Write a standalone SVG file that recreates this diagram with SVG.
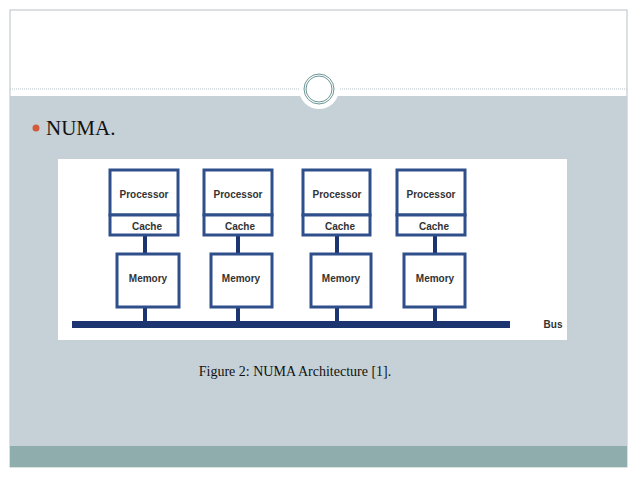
<svg xmlns="http://www.w3.org/2000/svg" width="638" height="478" viewBox="0 0 638 478">
<style>
.b{fill:#fff;stroke:#2f4f8a;stroke-width:3}
.t{font-family:"Liberation Sans",Arial,sans-serif;font-size:10px;font-weight:bold;fill:#333;text-anchor:middle}
.c{stroke:#1c3570;stroke-width:4}
</style>
<rect width="638" height="478" fill="#fff"/>
<rect x="10" y="10" width="617" height="457" fill="#fff" stroke="#b7c4c8"/>
<rect x="10" y="96" width="617" height="350" fill="#c5d1d7"/>
<rect x="10" y="446" width="617" height="21" fill="#8fadac"/>
<line x1="10" y1="89" x2="627" y2="89" stroke="#b9c5c8" stroke-dasharray="1 1"/>
<circle cx="319" cy="89" r="20" fill="#fff"/>
<circle cx="319" cy="89" r="15" fill="none" stroke="#6e9697" stroke-width="1"/>
<circle cx="319" cy="89" r="13" fill="none" stroke="#6e9697" stroke-width="1"/>
<circle cx="36" cy="128" r="3.5" fill="#d45a3c"/>
<text x="46" y="135" font-family="Liberation Serif,serif" font-size="21" fill="#111">NUMA.</text>
<rect x="58" y="159" width="509" height="181" fill="#fff"/>
<g id="connectors">
<line class="c" x1="145" y1="235" x2="145" y2="325"/>
<line class="c" x1="238" y1="235" x2="238" y2="325"/>
<line class="c" x1="337" y1="235" x2="337" y2="325"/>
<line class="c" x1="435" y1="235" x2="435" y2="325"/>
<rect x="72" y="321" width="438" height="7" fill="#1c3570"/>
</g>
<g id="n1"><rect class="b" x="110" y="170" width="68" height="45"/><rect class="b" x="110" y="215" width="68" height="20"/><text class="t" x="144" y="198">Processor</text><text class="t" x="147" y="230">Cache</text><rect class="b" x="117" y="254" width="62" height="53"/><text class="t" x="148" y="282">Memory</text></g>
<g id="n2"><rect class="b" x="204" y="170" width="68" height="45"/><rect class="b" x="204" y="215" width="68" height="20"/><text class="t" x="238" y="198">Processor</text><text class="t" x="240" y="230">Cache</text><rect class="b" x="211" y="254" width="61" height="53"/><text class="t" x="241" y="282">Memory</text></g>
<g id="n3"><rect class="b" x="303" y="170" width="67" height="45"/><rect class="b" x="303" y="215" width="67" height="20"/><text class="t" x="337" y="198">Processor</text><text class="t" x="340" y="230">Cache</text><rect class="b" x="311" y="254" width="60" height="53"/><text class="t" x="341" y="282">Memory</text></g>
<g id="n4"><rect class="b" x="397" y="170" width="68" height="45"/><rect class="b" x="397" y="215" width="68" height="20"/><text class="t" x="431" y="198">Processor</text><text class="t" x="434" y="230">Cache</text><rect class="b" x="404" y="254" width="61" height="53"/><text class="t" x="435" y="282">Memory</text></g>
<text class="t" x="553" y="328">Bus</text>
<text x="295" y="376" font-family="Liberation Serif,serif" font-size="14" fill="#111" text-anchor="middle">Figure 2: NUMA Architecture [1].</text>
</svg>
